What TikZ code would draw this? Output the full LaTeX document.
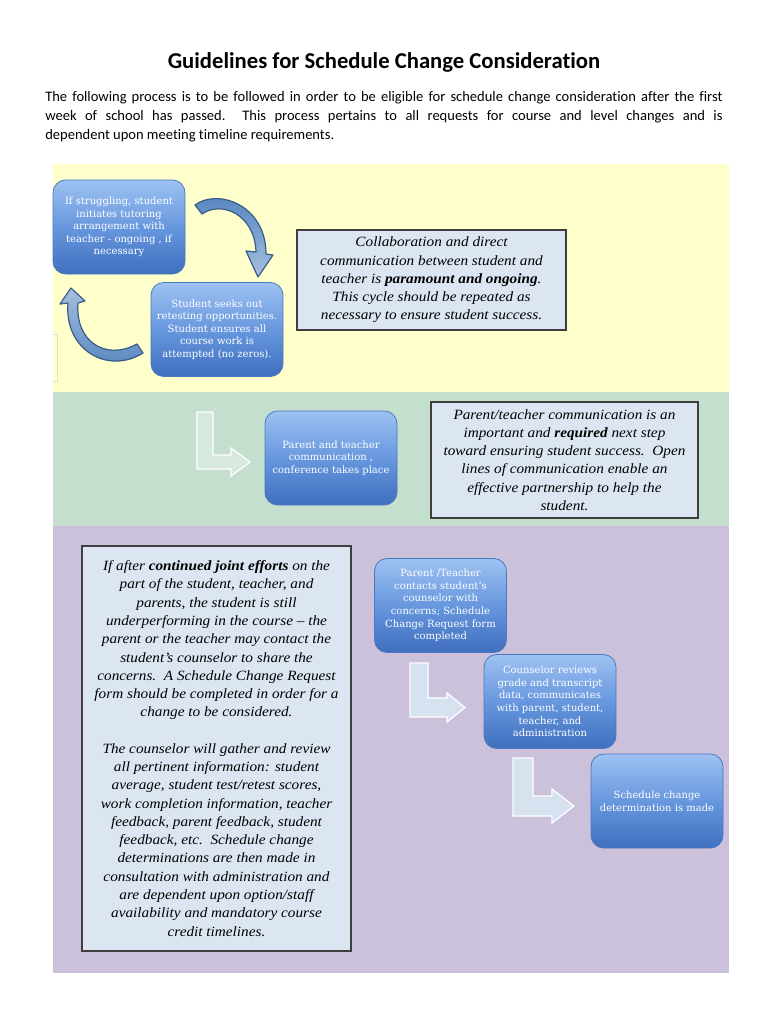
\documentclass[tikz,border=0pt]{standalone}
\usepackage{fontspec}
\setmainfont{Liberation Serif}
\newfontfamily\calfont[Ligatures=NoCommon]{Carlito}
\newfontfamily\callfont[FakeStretch=1.08]{Liberation Serif}
\newfontfamily\smartfont{DejaVu Serif}
\definecolor{bgyellow}{HTML}{FFFFCC}
\definecolor{bggreen}{HTML}{C4DFCD}
\definecolor{bgpurple}{HTML}{CCC1DA}
\definecolor{callfill}{HTML}{DCE6F2}
\definecolor{callline}{HTML}{3F3F3F}
\definecolor{blueTop}{HTML}{9EC2F2}
\definecolor{blueMid}{HTML}{6797DE}
\definecolor{blueBot}{HTML}{3F6FBE}
\definecolor{blueLine}{HTML}{4A78C2}
\definecolor{arrowLine}{HTML}{385D8A}
\definecolor{arrowDark}{HTML}{4F81BD}
\definecolor{arrowLight}{HTML}{A7BFDE}
\definecolor{lfill}{HTML}{D6E2F0}
\tikzset{
  smartbox/.style={rectangle, rounded corners=9.5pt, minimum width=99pt, minimum height=70.5pt,
    inner sep=1pt, top color=blueTop, bottom color=blueBot, middle color=blueMid,
    draw=blueLine, line width=0.6pt, text=white,
    font=\smartfont\fontsize{7.5}{9.4}\selectfont, align=center},
  callout/.style={rectangle, fill=callfill, draw=callline, line width=0.8pt, inner sep=2pt,
    align=center, font=\callfont\itshape\fontsize{10.6}{13.7}\selectfont},
  curvearrow/.style={draw=arrowLine, line width=0.9pt, line join=round},
  lpurple/.style={fill=lfill, draw=white, line width=0.9pt, line join=miter},
  lgreen/.style={fill=bggreen!70!white, draw=white, line width=0.9pt, line join=miter},
}
\begin{document}
\begin{tikzpicture}[x=0.75pt,y=-0.75pt]
\useasboundingbox (0,0) rectangle (768,1024);
\fill[white] (0,0) rectangle (768,1024);
% background bands
\fill[bgyellow] (53,164) rectangle (729,392);
\fill[bggreen] (53,392) rectangle (729,526);
\fill[bgpurple] (53,526) rectangle (729,973);
\draw[gray!25, line width=0.6pt] (53,334) -- (57,334) -- (57,381) -- (53,381);
% heading
\node[font=\calfont\bfseries\fontsize{17}{20}\selectfont, anchor=base] (title) at (384,69)
  {Guidelines for Schedule Change Consideration};
\node[anchor=base west, inner sep=0pt, font=\calfont\fontsize{10.9}{14.25}\selectfont] (intro) at (45,101)
  {\parbox[t]{508pt}{The following process is to be followed in order to be eligible for schedule change consideration after the first\linebreak
  week of school has passed.\ \ This process pertains to all requests for course and level changes and is\linebreak
  dependent upon meeting timeline requirements.}};
% blue process boxes
\node[smartbox] (a) at (119,227) {If struggling, student\\initiates tutoring\\arrangement with\\teacher - ongoing , if\\necessary};
\node[smartbox] (b) at (217,329.5) {Student seeks out\\retesting opportunities.\\Student ensures all\\course work is\\attempted (no zeros).};
\node[smartbox] (c) at (331,458) {Parent and teacher\\communication ,\\conference takes place};
\node[smartbox] (d) at (440.5,605.5) {Parent /Teacher\\contacts student’s\\counselor with\\concerns; Schedule\\Change Request form\\completed};
\node[smartbox] (e) at (550,701.5) {Counselor reviews\\grade and transcript\\data, communicates\\with parent, student,\\teacher, and\\administration};
\node[smartbox] (f) at (657,801) {Schedule change\\determination is made};
% cycle arrows
\path[curvearrow, top color=arrowDark, bottom color=arrowLight]
  (195,205) .. controls (218,188) and (266,205) .. (266,254) -- (273,255) -- (258,277) -- (246,251) -- (256,252)
  .. controls (255,215) and (222,200) .. (202,214) -- cycle;
\path[curvearrow, top color=arrowLight, bottom color=arrowDark]
  (143,353) .. controls (108,375) and (64,350) .. (68,303) -- (60,304) -- (71,288) -- (85,301) -- (78,303)
  .. controls (75,342) and (106,361) .. (137,344) -- cycle;
% bent arrows
\path[lgreen] (197,412) -- (213,412) -- (213,455) -- (231,455) -- (231,448) -- (250,462) -- (231,476) -- (231,469) -- (197,469) -- cycle;
\path[lpurple] (410,663) -- (428,663) -- (428,698) -- (447,698) -- (447,693) -- (465,707.5) -- (447,722) -- (447,717) -- (410,717) -- cycle;
\path[lpurple] (513,758) -- (533,758) -- (533,796) -- (552,796) -- (552,789) -- (574,806) -- (552,823) -- (552,816) -- (513,816) -- cycle;
% callouts
\node[callout, minimum width=201.75pt, minimum height=75pt] (note1) at (431.5,280)
  {Collaboration and direct\\communication between student and\\teacher is \textbf{paramount and ongoing}.\\This cycle should be repeated as\\necessary to ensure student success.};
\node[callout, minimum width=200.25pt, minimum height=87pt] (note2) at (564.5,460)
  {Parent/teacher communication is an\\important and \textbf{required} next step\\toward ensuring student success.\ \ Open\\lines of communication enable an\\effective partnership to help the\\student.};
\node[callout, minimum width=201.75pt, minimum height=303.75pt] (note3) at (216.5,748.5)
  {If after \textbf{continued joint efforts} on the\\part of the student, teacher, and\\parents, the student is still\\underperforming in the course – the\\parent or the teacher may contact the\\student’s counselor to share the\\concerns.\ \ A Schedule Change Request\\form should be completed in order for a\\change to be considered.\\[13.7pt]
  The counselor will gather and review\\all pertinent information: student\\average, student test/retest scores,\\work completion information, teacher\\feedback, parent feedback, student\\feedback, etc.\ \ Schedule change\\determinations are then made in\\consultation with administration and\\are dependent upon option/staff\\availability and mandatory course\\credit timelines.};
\end{tikzpicture}
\end{document}
